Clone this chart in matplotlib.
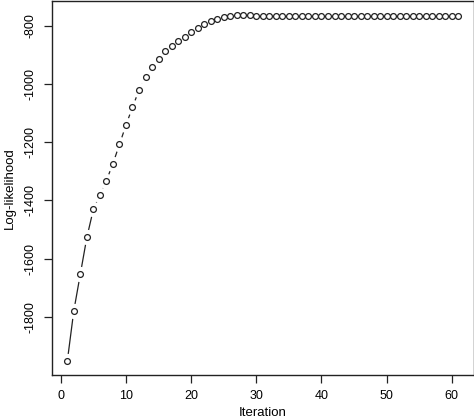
import matplotlib
matplotlib.use('Agg')
import matplotlib.pyplot as plt

iteration = list(range(1, 62))
loglik = [-1952, -1779, -1653, -1527, -1431, -1380, -1332, -1274, -1208, -1142,
          -1080, -1022, -978, -942, -913, -888, -869, -852, -838, -823,
          -808, -796, -784, -776, -770, -766, -763, -763, -765, -766,
          -768] + [-768] * 30

xticks = [0, 10, 20, 30, 40, 50, 60]
yticks = [-1800, -1600, -1400, -1200, -1000, -800]

plt.rcParams['font.family'] = ['Liberation Sans', 'DejaVu Sans']

fig = plt.figure(figsize=(4.74, 4.2), dpi=100)
ax = fig.add_axes([0.109, 0.107, 0.891, 0.891])

# R style type="b": line with gaps around the points
ax.plot(iteration, loglik, color='#222222', lw=0.9, zorder=1)
ax.plot(iteration, loglik, ls='none', marker='o', ms=11, mfc='white', mec='none', zorder=2)
ax.plot(iteration, loglik, ls='none', marker='o', ms=4.2, mfc='white', mec='#222222', mew=0.9, zorder=3)

ax.set_xlim(-1.4, 63.4)
ax.set_ylim(-2000, -715)
ax.set_xticks(xticks)
ax.set_yticks(yticks)
ax.set_yticklabels([str(v) for v in yticks], rotation=90, va='center')
ax.tick_params(axis='both', length=6, width=0.9, labelsize=9, pad=5, color='#222222')
for s in ax.spines.values():
    s.set_linewidth(1.0)
    s.set_color('#222222')

ax.set_xlabel('Iteration', fontsize=9.5, labelpad=3)
ax.set_ylabel('Log-likelihood', fontsize=9.5, labelpad=6)

fig.savefig('out.png', dpi=100)
